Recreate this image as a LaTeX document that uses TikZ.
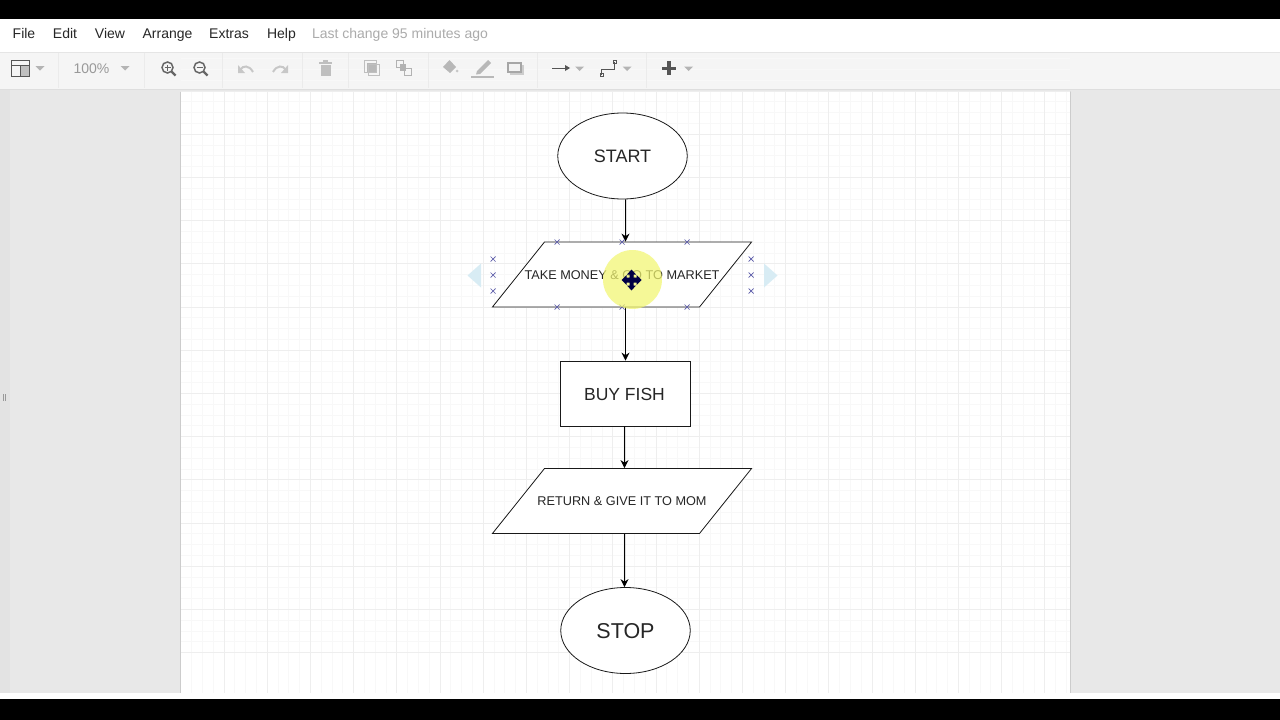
\documentclass[tikz,border=0pt]{standalone}
\usepackage{fontspec}
\setmainfont{Liberation Sans}
\usetikzlibrary{shapes.geometric,arrows.meta}
\definecolor{grid1}{HTML}{F8F8F8}
\definecolor{grid2}{HTML}{EEEEEE}
\definecolor{icongray}{HTML}{B4B4B4}
\definecolor{icondark}{HTML}{555555}
\definecolor{markblue}{HTML}{5A5AA8}
\definecolor{pale}{HTML}{D8ECF4}
\definecolor{hl}{HTML}{F2F670}
\tikzset{
  menuitem/.style={anchor=base,font=\fontsize{14}{16}\selectfont,text=black!85,inner sep=0},
  flowbox/.style={draw=black!90,line width=0.8pt,fill=white,inner sep=0,text=black!85},
  para/.style={flowbox,shape=trapezium,trapezium left angle=51.3,trapezium right angle=128.7,text height=37pt,text depth=28pt,font=\fontsize{12.7}{15}\selectfont},
  flowarrow/.style={draw=black,line width=1pt,-{Stealth[length=8pt,width=8pt]}},
  sep/.style={draw=black!8,line width=1pt},
  tri/.style={fill=icongray,draw=none},
  xmark/.style={draw=markblue,line width=0.7pt},
}
\newcommand{\xm}[2]{\draw[xmark] (#1-2.5,#2-2.5) -- (#1+2.5,#2+2.5) (#1-2.5,#2+2.5) -- (#1+2.5,#2-2.5);}
\newcommand{\drop}[2]{\fill[tri] (#1-4.5,#2-2) -- (#1+4.5,#2-2) -- (#1,#2+2.5) -- cycle;}
\newcommand{\dn}[1]{\raisebox{0pt}[\dimexpr\height+1.8pt\relax]{#1}}
\newcommand{\pw}[1]{\makebox[155pt][c]{#1}}
\begin{document}
\begin{tikzpicture}[x=1pt,y=-1pt]
\useasboundingbox (0,0) rectangle (1280,720);
% backgrounds
\fill[white] (0,0) rectangle (1280,720);
\fill[black] (0,0) rectangle (1280,19);
\fill[black] (0,699) rectangle (1280,720);
\fill[black!4] (0,52) rectangle (1280,89);
\draw[black!10,line width=0.8pt] (0,52) -- (1280,52);
\draw[black!13,line width=1pt] (0,89) -- (1280,89);
\fill[black!9] (0,90) rectangle (1280,693);
\fill[black!11] (0,90) rectangle (10,693);
% page
\fill[white] (181,92) rectangle (1070,693);
\draw[black!20,line width=0.8pt] (180.5,92) -- (180.5,693);
\draw[black!20,line width=0.8pt] (1070.5,92) -- (1070.5,693);
\draw[black!14,line width=0.8pt] (180.5,91.5) -- (1070.5,91.5);
\foreach \i in {1,...,82} \draw[grid1,line width=0.5pt] (180.7+10.8*\i,92) -- (180.7+10.8*\i,693);
\foreach \i in {0,...,55} \draw[grid1,line width=0.5pt] (181,652.5-10.8*\i) -- (1070,652.5-10.8*\i);
\foreach \i in {1,...,20} \draw[grid2,line width=0.7pt] (180.7+43.2*\i,92) -- (180.7+43.2*\i,693);
\foreach \i in {0,...,13} \draw[grid2,line width=0.7pt] (181,652.5-43.2*\i) -- (1070,652.5-43.2*\i);
% menu
\node[menuitem] (mfile) at (24,38) {File};
\node[menuitem] (medit) at (65,38) {Edit};
\node[menuitem] (mview) at (110,38) {View};
\node[menuitem] (marr) at (167.5,38) {Arrange};
\node[menuitem] (mext) at (229,38) {Extras};
\node[menuitem] (mhelp) at (281.5,38) {Help};
\node[menuitem,text=black!33] (mlast) at (400,38) {Last change 95 minutes ago};
% separators
\foreach \x in {58,144,222,302,348,428,537,646} \draw[sep] (\x,53) -- (\x,88);
% toolbar icons
\draw[icondark,line width=1pt] (11,60) rectangle (29,76);
\fill[black!25] (20.5,65) rectangle (28.5,75.5);
\draw[icondark,line width=0.8pt] (11,65) -- (29,65) (20.5,65) -- (20.5,76);
\drop{40}{68}
\node[menuitem,text=black!40] (mzoom) at (91.5,73) {100\%};
\drop{125}{68}
% zoom in/out
\draw[icondark!90,line width=1.5pt] (167.5,67.5) circle (5.5);
\draw[icondark!90,line width=2.2pt] (171.5,71.5) -- (175.5,75.5);
\draw[icondark!90,line width=1.1pt] (164.5,67.5) -- (170.5,67.5) (167.5,64.5) -- (167.5,70.5);
\draw[icondark!90,line width=1.5pt] (199.5,67.5) circle (5.5);
\draw[icondark!90,line width=2.2pt] (203.5,71.5) -- (207.5,75.5);
\draw[icondark!90,line width=1.1pt] (196.5,67.5) -- (202.5,67.5);
% undo redo
\draw[black!22,line width=2pt] (240,70) .. controls (243,65) and (249,65) .. (253,72);
\fill[black!22] (238,65) -- (238,73) -- (245,73) -- cycle;
\draw[black!22,line width=2pt] (286,70) .. controls (283,65) and (277,65) .. (273,72);
\fill[black!22] (288,65) -- (288,73) -- (281,73) -- cycle;
% trash
\fill[black!25] (319,62) rectangle (332,64);
\fill[black!25] (323,60) rectangle (328,62);
\fill[black!25] (320.5,65) rectangle (330.5,76);
% to front / back
\draw[black!25,line width=0.8pt] (364,60.5) rectangle (376,72);
\fill[black!28] (367,63) rectangle (376,72);
\draw[black!25,line width=0.8pt] (368,64) rectangle (379.5,75.5);
\draw[black!30,line width=1pt] (396,60.5) rectangle (403,67.5);
\fill[black!30] (400,64) rectangle (406,71);
\draw[black!30,line width=1pt] (404,68) rectangle (411,75);
% fill, line, shadow
\fill[black!28] (443,67) -- (449.5,60) -- (456,67) -- (450,73) -- cycle;
\fill[black!22] (457,71) circle (1.5);
\fill[black!28] (477,71) -- (488,60) -- (491,63) -- (480,74) -- (476,74.5) -- cycle;
\fill[black!28] (471,75.5) rectangle (494,77.5);
\fill[black!20] (510,65) rectangle (524,75);
\draw[black!35,line width=1.5pt,fill=black!5] (508,63) rectangle (521,72);
% arrow icons
\draw[icondark,line width=1pt] (552,68) -- (568,68);
\fill[icondark] (565,65) -- (570,68) -- (565,71) -- cycle;
\drop{579.5}{68.5}
\draw[icondark,line width=1pt] (601.5,75) -- (601.5,69) -- (614.5,69) -- (614.5,62);
\draw[icondark,line width=0.8pt] (600,73.5) rectangle (603,76.5);
\draw[icondark,line width=0.8pt] (613,60.5) rectangle (616,63.5);
\drop{627}{68.5}
\fill[icondark] (661.5,66.5) rectangle (676,70);
\fill[icondark] (667,61) rectangle (670.5,75);
\drop{688.5}{68.5}
% sidebar handle
\draw[black!40,line width=0.4pt] (3.5,394) -- (3.5,401) (5.5,394) -- (5.5,401);
% flow nodes
\node[flowbox,shape=ellipse,minimum width=129.5,minimum height=86,font=\fontsize{18}{20}\selectfont] (start) at (622.5,156) {START};
\node[para] (take) at (622,274.5) {\pw{TAKE MONEY \& GO TO MARKET}};
\node[flowbox,shape=rectangle,minimum width=129.5,minimum height=65,font=\fontsize{17.5}{20}\selectfont] (buy) at (625.5,393.5) {\dn{\hspace*{-2pt}BUY FISH}};
\node[para] (ret) at (622,501) {\pw{RETURN \& GIVE IT TO MOM}};
\node[flowbox,shape=ellipse,minimum width=129.5,minimum height=86,font=\fontsize{21.5}{24}\selectfont] (stop) at (625.5,630.5) {\dn{STOP}};
% connectors
\draw[flowarrow] ([xshift=3pt]start.south) -- ([xshift=3.5pt]take.north);
\draw[flowarrow] ([xshift=3.5pt]take.south) -- ([xshift=3.5pt]take.south |- buy.north);
\draw[flowarrow] ([xshift=-1pt]buy.south) -- ([xshift=2.5pt]ret.north);
\draw[flowarrow] ([xshift=2.5pt]ret.south) -- ([xshift=-1pt]stop.north);
% selection handles
\foreach \x in {557,622,687} {\xm{\x}{242}\xm{\x}{307}}
\foreach \y in {259,275,291} {\xm{493}{\y}\xm{751}{\y}}
% hover arrows
\fill[pale] (481,263.5) -- (481,287.5) -- (467.5,275.5) -- cycle;
\fill[pale] (764,263.5) -- (764,287.5) -- (777.5,275.5) -- cycle;
% highlight and cursor
\fill[hl,fill opacity=0.72] (632.5,279.5) circle (29.5);
\fill[black!70!blue!90!black] (631.5,269.5) -- (636,274.5) -- (633.5,274.5) -- (633.5,277.5) -- (636.5,277.5) -- (636.5,275) -- (641.5,280) -- (636.5,285) -- (636.5,282.5) -- (633.5,282.5) -- (633.5,285.5) -- (636,285.5) -- (631.5,290.5) -- (627,285.5) -- (629.5,285.5) -- (629.5,282.5) -- (626.5,282.5) -- (626.5,285) -- (621.5,280) -- (626.5,275) -- (626.5,277.5) -- (629.5,277.5) -- (629.5,274.5) -- (627,274.5) -- cycle;
\end{tikzpicture}
\end{document}
